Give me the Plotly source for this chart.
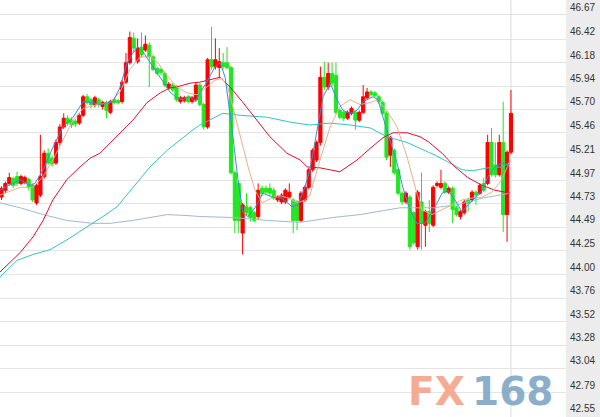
import plotly.graph_objects as go

# ---------------- data ----------------
open_ = [44.80, 44.87, 44.94, 44.99, 45.01, 44.94, 44.95, 44.98, 44.92, 44.74,
         44.82, 45.01, 45.25, 45.20, 45.15, 45.36, 45.52, 45.61, 45.59, 45.58,
         45.56, 45.64, 45.83, 45.80, 45.75, 45.80, 45.73, 45.77, 45.67, 45.80,
         45.79, 45.78, 45.98, 46.18, 46.43, 46.19, 46.34, 46.31, 46.36, 46.24,
         46.12, 46.11, 46.07, 45.92, 45.95, 45.93, 45.78, 45.79, 45.83, 45.78,
         45.80, 45.95, 45.75, 45.52, 46.21, 46.14, 46.13, 46.18, 46.18, 46.13,
         45.05, 44.94, 44.43, 44.70, 44.69, 44.64, 44.60, 44.89, 44.89, 44.89,
         44.87, 44.77, 44.75, 44.75, 44.80, 44.77, 44.75, 44.56, 44.77, 44.90,
         45.08, 45.18, 45.36, 46.03, 45.93, 46.07, 46.05, 45.69, 45.67, 45.61,
         45.66, 45.67, 45.59, 45.67, 45.82, 45.88, 45.87, 45.83, 45.77, 45.66,
         45.23, 45.28, 45.08, 44.84, 44.75, 44.80, 44.64, 44.29, 44.75, 44.51,
         44.65, 44.51, 44.92, 44.90, 44.94, 44.85, 44.89, 44.69, 44.60, 44.64,
         44.77, 44.77, 44.85, 44.84, 44.94, 44.94, 45.36, 45.13, 45.03, 45.36,
         44.62, 45.26]
high = [44.91, 44.96, 45.05, 45.01, 45.06, 45.03, 45.02, 45.00, 44.94, 44.94,
        45.44, 45.28, 45.30, 45.23, 45.39, 45.55, 45.66, 45.64, 45.62, 45.60,
        45.66, 45.85, 45.86, 45.82, 45.84, 45.82, 45.79, 45.79, 45.80, 45.82,
        45.81, 46.00, 46.28, 46.50, 46.49, 46.43, 46.49, 46.46, 46.39, 46.26,
        46.14, 46.13, 46.09, 45.98, 45.97, 45.95, 45.84, 45.84, 45.85, 45.84,
        45.98, 45.97, 45.77, 46.23, 46.55, 46.43, 46.33, 46.28, 46.34, 46.15,
        45.07, 44.97, 44.74, 44.84, 44.71, 44.66, 44.94, 44.92, 44.92, 44.94,
        44.90, 44.82, 44.84, 44.89, 44.94, 44.79, 44.77, 44.86, 44.92, 45.10,
        45.30, 45.38, 46.14, 46.19, 46.18, 46.18, 46.18, 45.71, 45.69, 45.69,
        45.73, 45.69, 45.69, 45.95, 45.92, 45.90, 45.89, 45.85, 45.79, 45.68,
        45.43, 45.30, 45.10, 44.86, 44.86, 44.82, 44.66, 44.87, 45.05, 44.67,
        44.77, 44.92, 44.96, 45.08, 44.96, 44.91, 44.91, 44.71, 44.67, 44.77,
        44.79, 44.87, 44.87, 44.94, 45.00, 45.44, 45.51, 45.36, 45.44, 45.78,
        45.28, 45.90]
low = [44.77, 44.84, 44.92, 44.89, 44.91, 44.92, 44.93, 44.87, 44.75, 44.72,
       44.80, 44.99, 45.13, 45.11, 45.13, 45.33, 45.50, 45.53, 45.51, 45.52,
       45.54, 45.62, 45.75, 45.71, 45.72, 45.72, 45.70, 45.61, 45.65, 45.75,
       45.75, 45.76, 45.96, 46.16, 46.29, 46.17, 46.23, 46.29, 45.93, 46.09,
       46.05, 46.05, 45.93, 45.90, 45.88, 45.78, 45.76, 45.77, 45.76, 45.76,
       45.78, 45.73, 45.49, 45.50, 46.11, 46.11, 46.02, 46.11, 46.11, 45.03,
       44.43, 44.43, 44.21, 44.61, 44.55, 44.54, 44.57, 44.81, 44.82, 44.81,
       44.77, 44.75, 44.73, 44.73, 44.78, 44.43, 44.46, 44.54, 44.75, 44.88,
       45.06, 45.16, 45.33, 45.90, 45.90, 45.94, 45.65, 45.60, 45.58, 45.59,
       45.64, 45.49, 45.57, 45.65, 45.80, 45.83, 45.82, 45.76, 45.64, 45.18,
       45.11, 45.03, 44.82, 44.72, 44.73, 44.26, 44.31, 44.26, 44.26, 44.29,
       44.44, 44.49, 44.90, 44.88, 44.83, 44.83, 44.53, 44.60, 44.57, 44.62,
       44.65, 44.75, 44.72, 44.82, 44.85, 44.92, 45.01, 45.00, 45.01, 44.44,
       44.34, 45.24]
close = [44.89, 44.94, 45.00, 44.92, 44.94, 45.01, 45.00, 44.90, 44.77, 44.92,
         45.01, 45.25, 45.15, 45.14, 45.36, 45.52, 45.61, 45.56, 45.54, 45.55,
         45.64, 45.83, 45.77, 45.75, 45.82, 45.75, 45.77, 45.69, 45.78, 45.77,
         45.77, 45.98, 46.18, 46.44, 46.33, 46.33, 46.26, 46.37, 46.24, 46.11,
         46.07, 46.08, 45.95, 45.96, 45.90, 45.80, 45.82, 45.82, 45.78, 45.82,
         45.95, 45.75, 45.52, 46.21, 46.14, 46.21, 46.19, 46.14, 46.13, 45.05,
         44.56, 44.56, 44.72, 44.64, 44.59, 44.56, 44.87, 44.84, 44.85, 44.84,
         44.79, 44.80, 44.82, 44.87, 44.85, 44.56, 44.56, 44.84, 44.90, 45.08,
         45.28, 45.36, 46.03, 45.93, 46.07, 45.97, 45.67, 45.62, 45.61, 45.67,
         45.71, 45.59, 45.67, 45.83, 45.88, 45.85, 45.84, 45.78, 45.66, 45.21,
         45.41, 45.05, 44.84, 44.75, 44.84, 44.29, 44.33, 44.85, 44.53, 44.65,
         44.53, 44.90, 44.94, 44.94, 44.85, 44.89, 44.67, 44.62, 44.65, 44.75,
         44.74, 44.85, 44.82, 44.92, 44.87, 45.36, 45.03, 45.03, 45.36, 44.62,
         45.26, 45.66]

# moving-average lines, sampled (candle position, price)
ma5_x = [-0.4, 4.8, 7.3, 8.6, 10.7, 13.2, 15.8, 18.4, 21.0, 23.5, 25.3, 28.7, 30.5, 32.3,
         33.8, 35.1, 36.4, 38.2, 40.0, 41.5, 43.3, 45.1, 46.7, 48.5, 49.8, 51.0, 52.8, 54.9,
         56.2, 57.5, 59.3, 60.8, 62.1, 63.4, 65.2, 67.2, 69.6, 72.1, 74.7, 76.2, 78.0, 79.3,
         81.1, 82.7, 84.5, 86.3, 87.8, 89.6, 91.4, 93.0, 95.5, 96.8, 98.1, 99.9, 101.7, 103.2,
         105.0, 106.8, 108.9, 111.5, 113.3, 114.8, 116.6, 118.4, 120.0, 121.8, 123.6, 125.1,
         126.9, 128.7, 130.8]
ma5_y = [44.87, 44.98, 44.92, 44.94, 45.08, 45.31, 45.52, 45.62, 45.78, 45.77, 45.75, 45.78,
         45.93, 46.18, 46.28, 46.34, 46.29, 46.18, 46.07, 45.98, 45.88, 45.82, 45.80, 45.83,
         45.78, 45.87, 45.98, 46.14, 46.18, 46.03, 45.49, 44.98, 44.64, 44.60, 44.69, 44.84,
         44.80, 44.79, 44.70, 44.72, 44.90, 45.08, 45.49, 45.83, 45.97, 45.80, 45.69, 45.66,
         45.69, 45.78, 45.83, 45.80, 45.62, 45.39, 45.15, 44.90, 44.67, 44.53, 44.53, 44.70,
         44.84, 44.87, 44.77, 44.65, 44.72, 44.80, 44.87, 45.01, 45.11, 45.15, 45.13]

ma10_x = [-0.4, 4.8, 8.1, 10.7, 13.2, 15.8, 18.4, 21.0, 24.6, 27.9, 30.5, 33.0, 35.6, 38.2,
          40.0, 42.6, 45.1, 47.7, 50.3, 52.8, 54.9, 56.7, 58.2, 60.8, 63.4, 65.2, 67.0, 68.5,
          71.1, 73.7, 76.2, 78.0, 79.3, 81.9, 84.5, 87.0, 89.6, 92.2, 94.8, 96.6, 99.1, 101.7,
          104.3, 106.8, 108.1, 110.7, 113.3, 115.8, 118.4, 121.0, 123.6, 126.1, 128.7, 130.8]
ma10_y = [44.82, 44.90, 44.90, 45.01, 45.18, 45.39, 45.59, 45.71, 45.75, 45.77, 45.88, 46.11,
          46.24, 46.24, 46.19, 46.05, 45.93, 45.87, 45.85, 45.93, 46.00, 46.02, 45.93, 45.52,
          45.11, 44.87, 44.74, 44.77, 44.82, 44.79, 44.74, 44.77, 44.82, 45.18, 45.52, 45.73,
          45.80, 45.75, 45.77, 45.80, 45.69, 45.52, 45.21, 44.84, 44.67, 44.62, 44.67, 44.72,
          44.77, 44.79, 44.80, 44.85, 44.98, 45.18]

ma20_x = [-0.4, 4.8, 8.1, 10.7, 13.2, 16.8, 20.2, 22.8, 25.3, 28.7, 33.8, 37.4, 40.8, 43.3,
          45.9, 48.5, 51.0, 56.2, 58.8, 62.1, 65.7, 69.0, 73.4, 76.8, 78.6, 81.9, 87.0, 91.4,
          94.8, 98.1, 100.7, 104.3, 107.6, 109.7, 113.3, 116.6, 119.9, 123.6, 126.9, 130.8]
ma20_y = [44.03, 44.23, 44.39, 44.56, 44.77, 44.98, 45.11, 45.20, 45.25, 45.39, 45.59, 45.77,
          45.87, 45.92, 45.94, 45.97, 45.98, 46.03, 45.93, 45.77, 45.59, 45.42, 45.25, 45.18,
          45.11, 45.10, 45.06, 45.18, 45.30, 45.41, 45.46, 45.46, 45.42, 45.37, 45.25, 45.11,
          45.00, 44.92, 44.87, 44.84]

ma60_x = [-0.4, 4.0, 8.1, 12.5, 16.8, 22.8, 26.1, 29.7, 33.8, 38.2, 42.6, 45.9, 49.2, 51.0,
          53.6, 56.9, 61.3, 68.3, 74.2, 79.3, 84.5, 89.6, 94.8, 99.1, 104.3, 107.6, 111.5,
          114.8, 118.4, 121.2, 125.1, 128.7, 130.8]
ma60_y = [43.98, 44.15, 44.21, 44.26, 44.36, 44.51, 44.60, 44.70, 44.90, 45.11, 45.28, 45.39,
          45.49, 45.54, 45.59, 45.66, 45.64, 45.62, 45.57, 45.54, 45.56, 45.54, 45.51, 45.42,
          45.36, 45.30, 45.23, 45.16, 45.08, 45.07, 45.10, 45.11, 45.15]

ma120_x = [-0.4, 4.8, 10.7, 16.8, 23.5, 27.9, 33.8, 42.6, 47.7, 51.0, 59.5, 68.3, 76.8, 85.2,
           92.2, 99.1, 102.5, 110.9, 117.1, 123.8, 130.8]
ma120_y = [44.74, 44.69, 44.62, 44.56, 44.53, 44.53, 44.56, 44.62, 44.61, 44.60, 44.59, 44.56,
           44.54, 44.59, 44.62, 44.67, 44.69, 44.69, 44.72, 44.79, 44.84]

tick_labels = ["46.67", "46.42", "46.18", "45.94", "45.70", "45.46", "45.21", "44.97", "44.73",
               "44.49", "44.25", "44.00", "43.76", "43.52", "43.28", "43.04", "42.79", "42.55"]

# ---------------- figure ----------------
W, H = 600, 417
plot_right = 566 / W
idx = list(range(len(close)))
tick_vals = [float(t) for t in tick_labels]

fig = go.Figure()
fig.add_trace(go.Candlestick(
    x=idx, open=open_, high=high, low=low, close=close,
    increasing=dict(line=dict(color="#ff0000", width=1), fillcolor="#ff0000"),
    decreasing=dict(line=dict(color="#22e622", width=1), fillcolor="#22e622"),
    whiskerwidth=0, hoverinfo="skip", showlegend=False))

ma_lines = [
    (ma120_x, ma120_y, "#a3b9cc"),
    (ma60_x, ma60_y, "#35c2c8"),
    (ma20_x, ma20_y, "#e01030"),
    (ma10_x, ma10_y, "#e9b08c"),
    (ma5_x, ma5_y, "#3a8de0"),
]
for xs, ys, col in ma_lines:
    fig.add_trace(go.Scatter(x=xs, y=ys, mode="lines", line=dict(color=col, width=1),
                             hoverinfo="skip", showlegend=False))

annotations = []
for lab, v in zip(tick_labels, tick_vals):
    annotations.append(dict(x=568 / W, xref="paper", y=v, yref="y", text=lab,
                            xanchor="left", yanchor="bottom", showarrow=False,
                            font=dict(family="Liberation Sans", size=10, color="#333333")))
annotations.append(dict(x=406 / W, xref="paper", y=1 - 391 / H, yref="paper", text="FX",
                        xanchor="left", yanchor="middle", showarrow=False, opacity=0.9,
                        font=dict(family="DejaVu Sans", size=39, color="#f3a489", weight="bold")))
annotations.append(dict(x=555 / W, xref="paper", y=1 - 391 / H, yref="paper", text="168",
                        xanchor="right", yanchor="middle", showarrow=False, opacity=0.9,
                        font=dict(family="DejaVu Sans", size=39, color="#7fa7c6", weight="bold")))

px_per = 3.889
x0 = -1.5 / px_per
x1 = x0 + 566 / px_per

fig.update_layout(
    width=W, height=H, margin=dict(l=0, r=0, t=0, b=0),
    paper_bgcolor="white", plot_bgcolor="white",
    boxgap=0.1, boxgroupgap=0.1,
    xaxis=dict(domain=[0, plot_right], range=[x0, x1], showgrid=False, zeroline=False,
               showticklabels=False, rangeslider=dict(visible=False), fixedrange=True),
    yaxis=dict(range=[42.541, 46.824], tickvals=tick_vals, showticklabels=False,
               gridcolor="#e4e4e4", gridwidth=1, zeroline=False, fixedrange=True),
    shapes=[
        dict(type="rect", xref="paper", yref="paper", x0=plot_right, x1=1, y0=0, y1=1,
             fillcolor="#ececec", line=dict(width=0), layer="below"),
        dict(type="line", xref="x", yref="paper", x0=idx[-1], x1=idx[-1], y0=0, y1=1,
             line=dict(color="#d9d9d9", width=1), layer="below"),
    ],
    annotations=annotations,
)

fig.write_html("out.html", config={"displayModeBar": False},
               post_script="document.body.style.margin='0';document.body.style.overflow='hidden';")
